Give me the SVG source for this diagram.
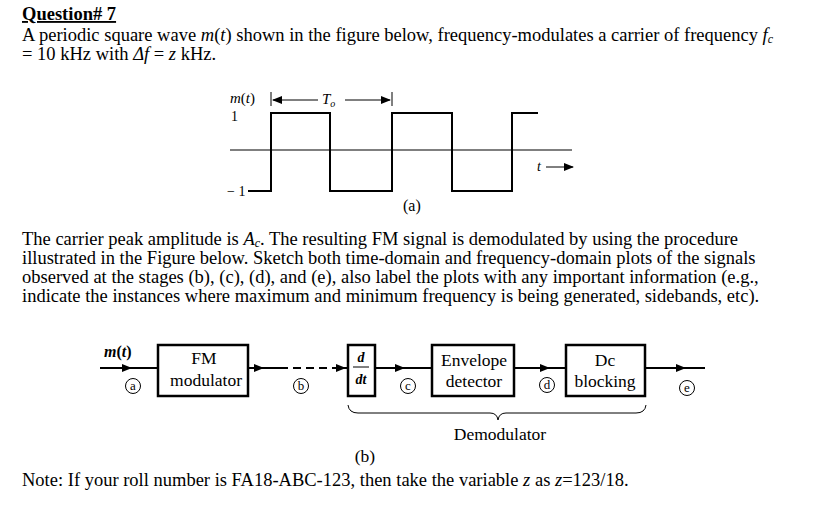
<svg xmlns="http://www.w3.org/2000/svg" width="818" height="528" viewBox="0 0 818 528">
<defs>
<marker id="ar" markerWidth="10" markerHeight="8" refX="9" refY="4" orient="auto" markerUnits="userSpaceOnUse"><path d="M0,0 L10,4 L0,8 z" fill="#000"/></marker>
<style>
text{font-family:"Liberation Serif",serif;fill:#000}
.t{font-size:18.5px}
.s{font-size:17.5px}
.b{fill:#fff;stroke:#000;stroke-width:2.5}
.l{stroke:#000;stroke-width:2;fill:none}
.c{fill:none;stroke:#000;stroke-width:1}
.ci{font-size:13px;text-anchor:middle}
</style>
</defs>
<rect width="818" height="528" fill="#fff"/>
<g id="text">
<text x="22" y="20" class="t" font-weight="bold" text-decoration="underline">Question# 7</text>
<text x="22" y="41" class="t">A periodic square wave <tspan font-style="italic">m</tspan>(<tspan font-style="italic">t</tspan>) shown in the figure below, frequency-modulates a carrier of frequency <tspan font-style="italic">f</tspan><tspan font-style="italic" font-size="12" dy="2">c</tspan></text>
<text x="22" y="60" class="t">= 10 kHz with <tspan font-style="italic">Δf</tspan> = <tspan font-style="italic">z</tspan> kHz.</text>
<text x="22" y="245" class="t">The carrier peak amplitude is <tspan font-style="italic">A</tspan><tspan font-style="italic" font-size="12" dy="2">c</tspan><tspan dy="-2">. The resulting FM signal is demodulated by using the procedure</tspan></text>
<text x="22" y="264" class="t">illustrated in the Figure below. Sketch both time-domain and frequency-domain plots of the signals</text>
<text x="22" y="283" class="t">observed at the stages (b), (c), (d), and (e), also label the plots with any important information (e.g.,</text>
<text x="22" y="302" class="t">indicate the instances where maximum and minimum frequency is being generated, sidebands, etc).</text>
<text x="22" y="486" class="t">Note: If your roll number is FA18-ABC-123, then take the variable <tspan font-style="italic">z</tspan> as <tspan font-style="italic">z</tspan>=123/18.</text>
</g>
<g id="waveform">
<line x1="230" y1="150" x2="572" y2="150" stroke="#000" stroke-width="1.2"/>
<polyline class="l" points="248,191 271,191 271,113 330,113 330,191 392,191 392,113 452,113 452,191 512,191 512,113 538,113"/>
<line x1="271" y1="92" x2="271" y2="106" stroke="#000"/>
<line x1="392" y1="92" x2="392" y2="106" stroke="#000"/>
<line x1="318" y1="100" x2="273" y2="100" stroke="#000" marker-end="url(#ar)"/>
<line x1="345" y1="100" x2="390" y2="100" stroke="#000" marker-end="url(#ar)"/>
<text x="322" y="104" font-size="15" font-style="italic">T<tspan font-size="10" dy="3">o</tspan></text>
<text x="230" y="103" font-size="15" font-style="italic">m<tspan font-style="normal">(</tspan>t<tspan font-style="normal">)</tspan></text>
<text x="231" y="121" font-size="14">1</text>
<text x="227" y="196" font-size="14">− 1</text>
<text x="537" y="171" font-size="14" font-style="italic">t</text>
<line x1="546" y1="167" x2="573" y2="167" stroke="#000" marker-end="url(#ar)"/>
<text x="403" y="211" font-size="16">(a)</text>
</g>
<g id="connectors">
<line x1="100" y1="368" x2="158" y2="368" class="l"/>
<path d="M122,364 L132,368 L122,372z"/>
<line x1="248" y1="368" x2="280" y2="368" class="l"/>
<path d="M254,364 L264,368 L254,372z"/>
<line x1="280" y1="368" x2="335" y2="368" class="l" stroke-dasharray="8,5"/>
<line x1="335" y1="368" x2="348" y2="368" class="l"/>
<path d="M336,364 L346,368 L336,372z"/>
<line x1="375" y1="368" x2="432" y2="368" class="l"/>
<path d="M395,364 L405,368 L395,372z"/>
<line x1="514" y1="368" x2="566" y2="368" class="l"/>
<path d="M540,364 L550,368 L540,372z"/>
<line x1="645" y1="368" x2="705" y2="368" class="l"/>
<path d="M676,364 L686,368 L676,372z"/>
<path d="M348,405 Q349,413 358,413 L490,413 Q497,413 498,420 Q499,413 506,413 L636,413 Q645,413 646,405" class="c" stroke-width="1.3"/>
</g>
<g id="labels">
<text x="104" y="357" font-size="16" font-style="italic" font-weight="bold">m<tspan font-style="normal">(</tspan>t<tspan font-style="normal">)</tspan></text>
<circle cx="133" cy="386" r="7.5" class="c"/><text x="133" y="390" class="ci">a</text>
<circle cx="301" cy="386" r="7.5" class="c"/><text x="301" y="390" class="ci">b</text>
<circle cx="408" cy="386" r="7.5" class="c"/><text x="408" y="390" class="ci">c</text>
<circle cx="547" cy="385" r="7.5" class="c"/><text x="547" y="389" class="ci">d</text>
<circle cx="687" cy="388" r="7.5" class="c"/><text x="687" y="392" class="ci">e</text>
<text x="500" y="440" class="s" text-anchor="middle">Demodulator</text>
<text x="365" y="462" class="s" text-anchor="middle">(b)</text>
</g>
<g id="fm">
<rect x="158" y="345" width="90" height="51" class="b"/>
<text x="204" y="364" class="s" text-anchor="middle">FM</text>
<text x="206" y="386" class="s" text-anchor="middle">modulator</text>
</g>
<g id="ddt">
<rect x="348" y="345" width="27" height="51" class="b"/>
<text x="361" y="362" font-size="14" font-style="italic" font-weight="bold" text-anchor="middle">d</text>
<line x1="353" y1="367" x2="369" y2="367" stroke="#000"/>
<text x="361" y="384" font-size="14" font-style="italic" font-weight="bold" text-anchor="middle">dt</text>
</g>
<g id="env">
<rect x="432" y="345" width="82" height="51" class="b"/>
<text x="474" y="366" class="s" text-anchor="middle">Envelope</text>
<text x="474" y="387" class="s" text-anchor="middle">detector</text>
</g>
<g id="dc">
<rect x="566" y="345" width="79" height="51" class="b"/>
<text x="605" y="366" class="s" text-anchor="middle">Dc</text>
<text x="605" y="387" class="s" text-anchor="middle">blocking</text>
</g>
</svg>
